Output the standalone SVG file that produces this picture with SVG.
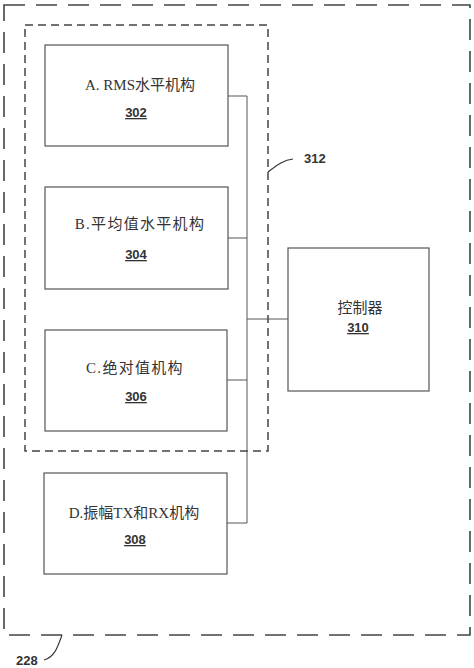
<svg xmlns="http://www.w3.org/2000/svg" width="474" height="668" viewBox="0 0 474 668">
<style>
.box{fill:#fff;stroke:#555;stroke-width:1.2}
.outer{fill:none;stroke:#444;stroke-width:1.6;stroke-dasharray:21 11}
.inner{fill:none;stroke:#444;stroke-width:1.5;stroke-dasharray:8 5}
.wire{fill:none;stroke:#555;stroke-width:1}
.lbl{font-family:"Liberation Serif","Noto Sans CJK SC",serif;font-size:15px;fill:#333;text-anchor:middle}
.wide{letter-spacing:1.3px}
.num{font-family:"Liberation Sans",Arial,sans-serif;font-size:13px;font-weight:bold;fill:#333;text-anchor:middle;text-decoration:underline}
.ref{font-family:"Liberation Sans",Arial,sans-serif;font-size:13px;font-weight:bold;fill:#333}
.lead{fill:none;stroke:#333;stroke-width:1.1}
</style>
<rect width="474" height="668" fill="#fff"/>
<g id="n228">
<rect class="outer" x="4" y="5" width="466" height="630"/>
<path class="lead" d="M62,635 C58,646 55,657 44,660"/>
<text class="ref" x="16" y="665">228</text>
</g>
<g id="n312">
<rect class="inner" x="25" y="25" width="243" height="426"/>
<path class="lead" d="M268,172 C276,166 283,160 293,159"/>
<text class="ref" x="304" y="163">312</text>
</g>
<g id="connectors">
<path class="wire" d="M228,96 H247 V523 H227"/>
<path class="wire" d="M228,238 H247"/>
<path class="wire" d="M227,380 H247"/>
<path class="wire" d="M247,319 H288"/>
</g>
<g id="n302">
<rect class="box" x="45" y="45" width="183" height="101"/>
<text class="lbl" x="140" y="90">A.  RMS水平机构</text>
<text class="num" x="136" y="117">302</text>
</g>
<g id="n304">
<rect class="box" x="45" y="187" width="183" height="102"/>
<text class="lbl wide" x="140" y="229">B.平均值水平机构</text>
<text class="num" x="136" y="259">304</text>
</g>
<g id="n306">
<rect class="box" x="45" y="330" width="182" height="101"/>
<text class="lbl wide" x="135" y="373">C.绝对值机构</text>
<text class="num" x="136" y="401">306</text>
</g>
<g id="n308">
<rect class="box" x="44" y="473" width="183" height="101"/>
<text class="lbl" x="134" y="518">D.振幅TX和RX机构</text>
<text class="num" x="135" y="544">308</text>
</g>
<g id="n310">
<rect class="box" x="288" y="248" width="141" height="143"/>
<text class="lbl" x="360" y="313">控制器</text>
<text class="num" x="358" y="332">310</text>
</g>
</svg>
